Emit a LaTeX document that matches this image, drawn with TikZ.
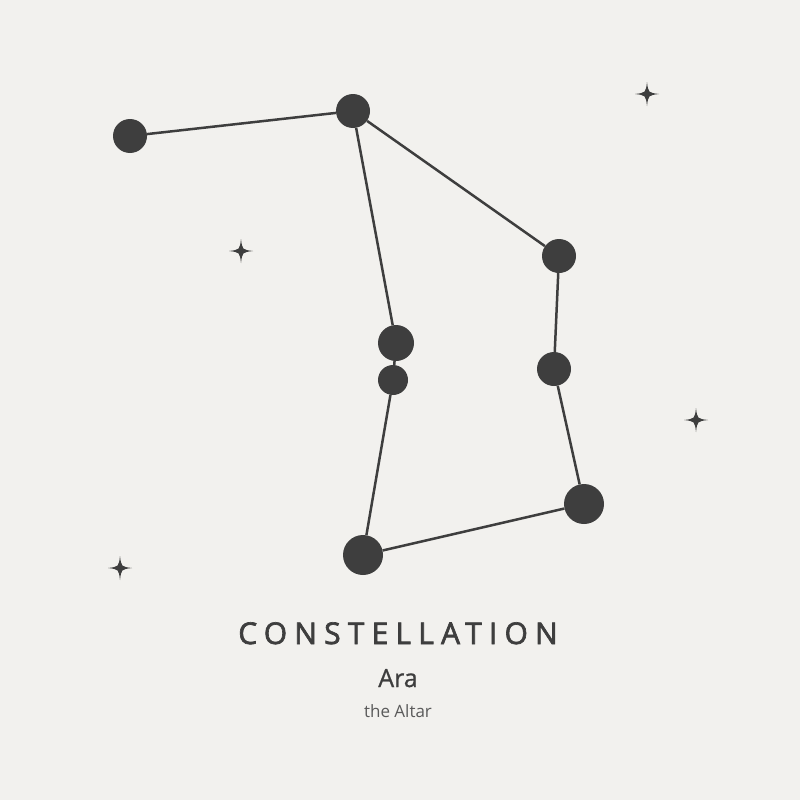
\documentclass[tikz,border=0pt]{standalone}
\usepackage{fontspec}
\setmainfont{Open Sans}
\newfontfamily\spacedfont[LetterSpace=24,FakeBold=2.2]{Open Sans}
\newfontfamily\midfont[FakeBold=0.8]{Open Sans}
\definecolor{bg}{HTML}{F2F1EE}
\definecolor{ink}{HTML}{3E3E3E}
\definecolor{subink}{HTML}{5A5A5A}
\tikzset{
  starnode/.style={circle,fill=ink,inner sep=0pt,minimum size=#1},
  link/.style={draw=ink,line width=2.5pt},
  sparkle/.pic={\fill[ink] (0,-12) .. controls (1.3,-1.3) .. (12,0) .. controls (1.3,1.3) .. (0,12) .. controls (-1.3,1.3) .. (-12,0) .. controls (-1.3,-1.3) .. cycle;}
}
\begin{document}
\begin{tikzpicture}[x=1pt,y=-1pt]
\fill[bg] (0,0) rectangle (800,800);
\useasboundingbox (0,0) rectangle (800,800);
% stars
\node[starnode=34pt] (a) at (130,136) {};
\node[starnode=34pt] (b) at (353,111) {};
\node[starnode=34pt] (c) at (559,256) {};
\node[starnode=36pt] (d) at (396,343) {};
\node[starnode=30pt] (e) at (393,380) {};
\node[starnode=34pt] (f) at (554,369) {};
\node[starnode=40pt] (g) at (584,504) {};
\node[starnode=40pt] (h) at (363,555) {};
\draw[link] (a) -- (b);
\draw[link] (b) -- (c);
\draw[link] (b) -- (d);
\draw[link] (d) -- (e);
\draw[link] (e) -- (h);
\draw[link] (h) -- (g);
\draw[link] (g) -- (f);
\draw[link] (f) -- (c);
% sparkles
\pic at (647,94) {sparkle};
\pic at (241,251) {sparkle};
\pic at (696,420) {sparkle};
\pic at (120,568) {sparkle};
% texts
\node[text=ink,font=\spacedfont\fontsize{30}{33}\selectfont,anchor=base] (title) at (398,644) {CONSTELLATION};
\node[text=ink,font=\midfont\fontsize{25}{28}\selectfont,anchor=base] (name) at (398,687) {Ara};
\node[text=subink,font=\fontsize{17}{20}\selectfont,anchor=base] (desc) at (398,717) {the Altar};
\end{tikzpicture}
\end{document}
